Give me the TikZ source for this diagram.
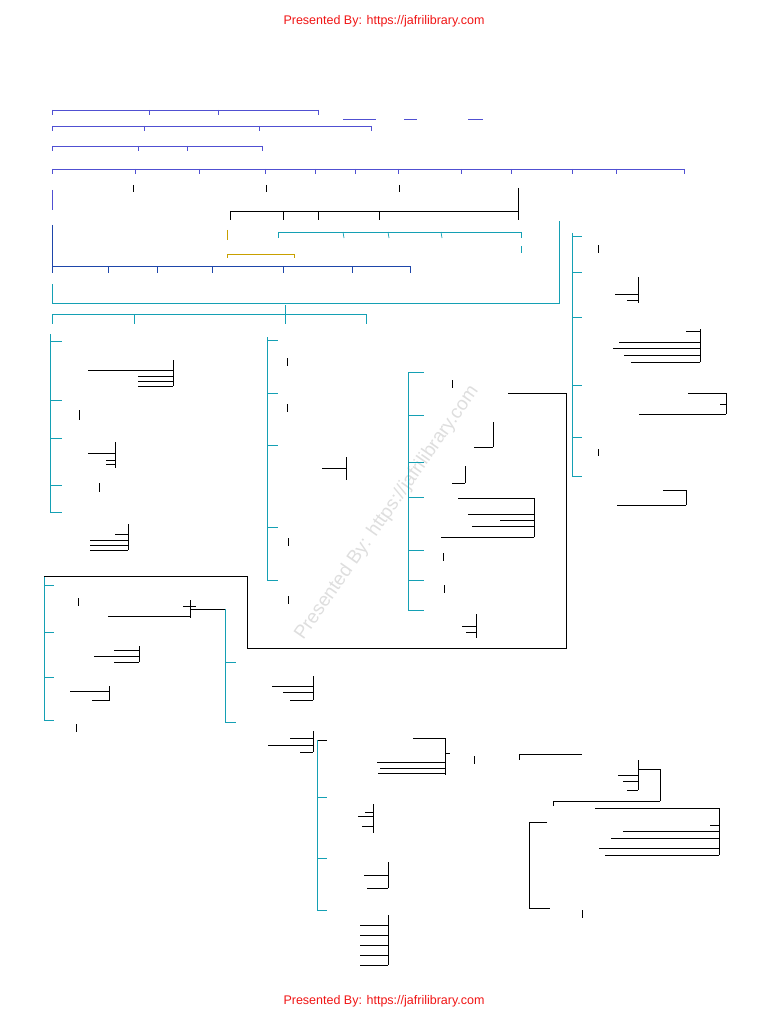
\documentclass[tikz,border=0pt]{standalone}
\usepackage{fontspec}
\setmainfont{Liberation Sans}
\begin{document}
\begin{tikzpicture}[x=1pt,y=-1pt,line width=0.7pt,
 bl/.style={draw={rgb,255:red,80;green,80;blue,210}},
 db/.style={draw={rgb,255:red,30;green,70;blue,170}},
 tl/.style={draw={rgb,255:red,20;green,160;blue,180}},
 gd/.style={draw={rgb,255:red,200;green,160;blue,0}},
 k/.style={draw=black},
 red/.style={text={rgb,255:red,240;green,20;blue,20},font=\fontsize{12.5}{14}\selectfont}]
\useasboundingbox (0,0) rectangle (768,1024);
\node[red] (t1) at (384,21) {Presented By: https://jafrilibrary.com};
\node[red] (t2) at (384,1001) {Presented By: https://jafrilibrary.com};
\node[rotate=55,text=black!13,font=\fontsize{19}{22}\selectfont] (wm) at (387,513) {Presented By: https://jafrilibrary.com};
% blue rows
\draw[bl] (52,110)--(318,110); \foreach \x in {52,149,218,318} \draw[bl] (\x,110)--(\x,115);
\draw[bl] (343,119)--(376,119) (404,119)--(417,119) (468,119)--(483,119);
\draw[bl] (52,126)--(371,126); \foreach \x in {52,144,259,371} \draw[bl] (\x,126)--(\x,131);
\draw[bl] (52,146)--(262,146); \foreach \x in {52,138,187,262} \draw[bl] (\x,146)--(\x,151);
\draw[bl] (52,169)--(684,169); \foreach \x in {52,135,199,265,315,355,398,461,511,572,616,684} \draw[bl] (\x,169)--(\x,174);
\foreach \x in {133,266,399} \draw[k] (\x,185)--(\x,192);
\draw[bl] (52,190)--(52,210);
\draw[k] (230,211)--(518,211) (518,188)--(518,220); \foreach \x in {230,283,318,379} \draw[k] (\x,211)--(\x,220);
\draw[db] (52,225)--(52,266);
\draw[gd] (227,230)--(227,240);
\draw[tl] (278,232)--(521,232); \foreach \x in {278,521} \draw[tl] (\x,232)--(\x,238);
\foreach \x in {343,388,441} \draw[tl] (\x,232)--(\x+1,238);
\draw[tl] (521,246)--(521,253);
\draw[gd] (227,254)--(294,254) (227,254)--(227,258) (294,254)--(294,258);
\draw[db] (52,266)--(410,266); \foreach \x in {52,108,157,212,283,352,410} \draw[db] (\x,266)--(\x,273);
\draw[tl] (52,284)--(52,303)--(559,303)--(559,221);
\draw[tl] (52,314)--(366,314); \foreach \x in {52,134,285,366} \draw[tl] (\x,314)--(\x,324); \draw[tl] (285,305)--(285,314);
% left column
\draw[tl] (50,334)--(50,513); \foreach \y in {341,400,438,485,512} \draw[tl] (50,\y)--(62,\y);
\draw[k] (88,370)--(173,370) (173,360)--(173,386); \foreach \y in {376,381,386} \draw[k] (138,\y)--(173,\y);
\draw[k] (79,410)--(79,420);
\draw[k] (88,453)--(115,453) (115,442)--(115,468) (106,460)--(115,460) (106,464)--(115,464);
\draw[k] (99,483)--(99,492);
\draw[k] (128,524)--(128,550) (115,534)--(128,534); \foreach \y in {540,545,550} \draw[k] (90,\y)--(128,\y);
% middle column
\draw[tl] (267,337)--(267,580); \foreach \y in {340,393,445,527,580} \draw[tl] (267,\y)--(278,\y);
\draw[k] (287,358)--(287,366) (287,404)--(287,412) (346,457)--(346,480) (322,468)--(346,468) (288,538)--(288,546) (288,596)--(288,604);
% column 408
\draw[tl] (408,372)--(408,610) (408,372)--(424,372); \foreach \y in {415,462,497,550,580,610} \draw[tl] (408,\y)--(424,\y);
\draw[k] (452,380)--(452,388) (493,422)--(493,447) (474,447)--(493,447) (465,466)--(465,483) (452,483)--(465,483);
\draw[k] (534,498)--(534,537) (458,498)--(534,498) (468,514)--(534,514) (500,520)--(534,520) (472,526)--(534,526) (441,537)--(534,537);
\draw[k] (443,553)--(443,561) (444,585)--(444,593) (476,614)--(476,638) (462,626)--(476,626) (466,632)--(476,632);
% big box
\draw[k] (508,393)--(566,393)--(566,648)--(247,648)--(247,576)--(44,576);
\draw[tl] (44,577)--(44,720); \foreach \y in {585,632,677,720} \draw[tl] (44,\y)--(54,\y);
\draw[k] (78,598)--(78,606) (108,616)--(190,616) (190,600)--(190,618) (183,606)--(196,606) (190,609)--(225,609);
\draw[tl] (225,609)--(225,722); \foreach \y in {662,722} \draw[tl] (225,\y)--(236,\y);
\draw[k] (139,646)--(139,662) (94,656)--(139,656) (114,662)--(139,662) (114,650)--(139,650);
\draw[k] (70,691)--(109,691) (109,686)--(109,701) (92,700)--(109,700) (76,724)--(76,732);
\draw[k] (313,676)--(313,700) (272,686)--(313,686) (283,692)--(313,692) (290,700)--(313,700);
\draw[k] (313,731)--(313,752) (268,745)--(313,745) (290,738)--(313,738) (300,752)--(313,752) (317,740)--(327,740);
\draw[tl] (317,740)--(317,910); \foreach \y in {797,858,910} \draw[tl] (317,\y)--(327,\y);
\draw[k] (445,738)--(445,775) (413,738)--(445,738) (377,762)--(445,762) (380,768)--(445,768) (378,773)--(445,773) (445,753)--(450,753);
\draw[k] (474,756)--(474,764) (519,754)--(582,754) (519,754)--(519,760);
\draw[k] (638,760)--(638,790) (660,769)--(660,801) (638,769)--(660,769) (553,801)--(660,801) (553,801)--(553,806) (618,775)--(638,775) (623,781)--(638,781) (627,790)--(638,790);
\draw[k] (719,808)--(719,855) (595,808)--(719,808) (710,825)--(719,825) (623,831)--(719,831) (611,838)--(719,838) (599,848)--(719,848) (605,855)--(719,855);
\draw[k] (547,822)--(529,822)--(529,908)--(550,908) (582,910)--(582,918);
\draw[k] (373,804)--(373,833) (358,816)--(373,816) (362,826)--(373,826) (365,812)--(373,812);
\draw[k] (388,862)--(388,888) (364,875)--(388,875) (367,888)--(388,888);
\draw[k] (388,915)--(388,965); \foreach \y in {925,935,945,955,965} \draw[k] (360,\y)--(388,\y);
% right column
\draw[tl] (572,233)--(572,476); \foreach \y in {236,272,317,385,437,476} \draw[tl] (572,\y)--(582,\y);
\draw[k] (598,245)--(598,253) (638,277)--(638,303) (615,294)--(638,294) (627,300)--(638,300);
\draw[k] (700,329)--(700,362) (686,331)--(700,331) (619,342)--(700,342) (613,348)--(700,348) (624,355)--(700,355) (631,362)--(700,362);
\draw[k] (726,393)--(726,414) (688,393)--(726,393) (639,414)--(726,414) (720,404)--(726,404);
\draw[k] (598,449)--(598,456) (686,490)--(686,505) (663,490)--(686,490) (617,505)--(686,505);
\end{tikzpicture}
\end{document}
